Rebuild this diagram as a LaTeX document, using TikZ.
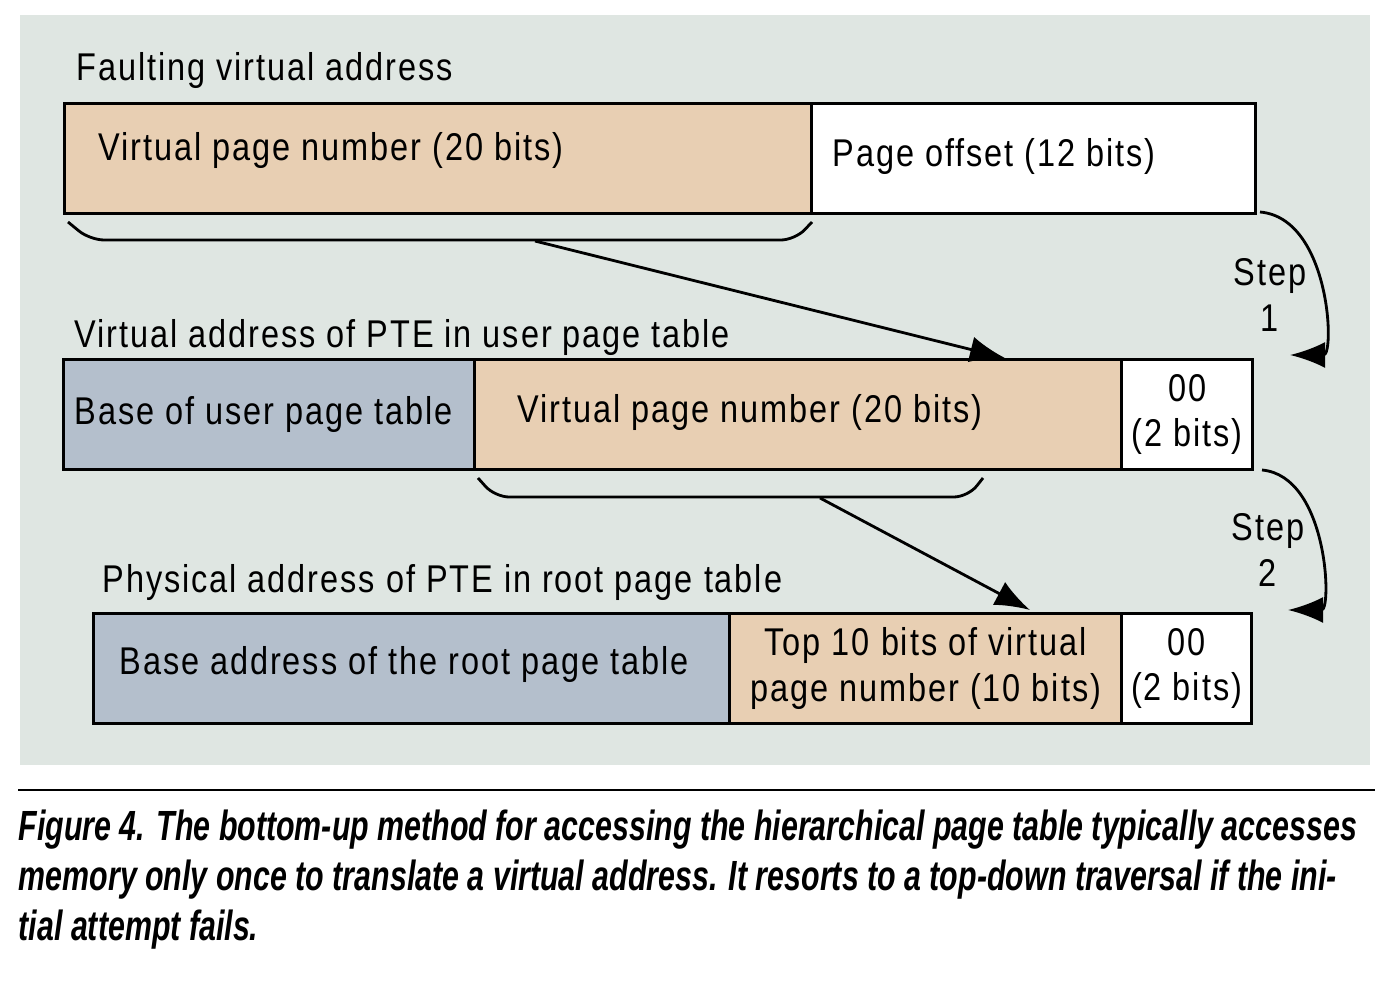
\documentclass[tikz,border=0pt]{standalone}
\usepackage{fontspec}
\setmainfont[FakeStretch=0.84,LetterSpace=5]{Liberation Sans}
\newfontfamily\capfont[FakeStretch=0.72]{Liberation Sans}
\usetikzlibrary{positioning}
\usetikzlibrary{arrows.meta}
\definecolor{bgpanel}{HTML}{DFE6E2}
\definecolor{tanfill}{HTML}{E8CFB3}
\definecolor{bluefill}{HTML}{B4BFCC}
\tikzset{
  field/.style={draw, line width=0.9pt, inner sep=0pt, anchor=north west, minimum height=1.1cm, font=\fontsize{11}{13}\selectfont},
  arrow/.style={line width=0.8pt, -{Latex[length=3.5mm,width=2.6mm]}},
  brace/.style={line width=0.8pt, rounded corners=4pt},
  lbl/.style={anchor=west, font=\fontsize{11}{13}\selectfont}
}
\begin{document}
\begin{tikzpicture}[x=0.01cm,y=-0.01cm]
\useasboundingbox (0,0) rectangle (1375,1000);
\fill[bgpanel] (20,15) rectangle (1370,765);

%Row one
\node[lbl] (faultLbl) at (64,70) {Faulting virtual address};
\node[field, fill=tanfill, minimum width=7.47cm] (vpnOne) at (63,102) {};
\node[lbl] at (86,150) {Virtual page number (20 bits)};
\node[field, fill=white, minimum width=4.44cm] (offset) at (810,102) {};
\node[lbl] at (820,156) {Page offset (12 bits)};

%Row two
\node[lbl] (pteLbl) at (62,337) {Virtual address of PTE in user page table};
\node[field, fill=bluefill, minimum width=4.11cm] (baseUser) at (62,358) {};
\node[lbl] at (62,414) {Base of user page table};
\node[field, fill=tanfill, minimum width=6.47cm] (vpnTwo) at (473,358) {};
\node[lbl] at (505,412) {Virtual page number (20 bits)};
\node[field, fill=white, minimum width=1.31cm, align=center] (zeroOne) at (1120,358) {00\\(2 bits)};

%Row three
\node[lbl] (rootLbl) at (90,582) {Physical address of PTE in root page table};
\node[field, fill=bluefill, minimum width=6.36cm] (baseRoot) at (92,612) {};
\node[lbl] at (107,664) {Base address of the root page table};
\node[field, fill=tanfill, minimum width=3.92cm, align=center] (topTen) at (728,612) {Top 10 bits of virtual\\page number (10 bits)};
\node[field, fill=white, minimum width=1.30cm, align=center] (zeroTwo) at (1120,612) {00\\(2 bits)};

%Brackets
\draw[brace] (68,222) -- (90,240) -- (795,240) -- (812,222);
\coordinate (braceOne) at (535,241);
\draw[brace] (478,478) -- (495,497) -- (968,497) -- (983,478);
\coordinate (braceTwo) at (820,498);

%Arrows
\draw[arrow] (braceOne) -- (1005,358);
\draw[arrow] (braceTwo) -- (1030,610);
\draw[arrow] (1260,212) .. controls (1330,218) and (1335,355) .. (1290,355);
\draw[arrow] (1262,470) .. controls (1328,476) and (1332,610) .. (1288,610);
\node[align=center, font=\fontsize{11}{13}\selectfont] (stepOne) at (1270,295) {Step\\1};
\node[align=center, font=\fontsize{11}{13}\selectfont] (stepTwo) at (1268,550) {Step\\2};

%Caption
\draw[line width=0.8pt] (18,790) -- (1375,790);
\node[anchor=west, inner sep=0pt, font=\capfont\bfseries\itshape\fontsize{12}{15}\selectfont] at (18,830) {Figure 4. The bottom-up method for accessing the hierarchical page table typically accesses};
\node[anchor=west, inner sep=0pt, font=\capfont\bfseries\itshape\fontsize{12}{15}\selectfont] at (18,880) {memory only once to translate a virtual address. It resorts to a top-down traversal if the ini-};
\node[anchor=west, inner sep=0pt, font=\capfont\bfseries\itshape\fontsize{12}{15}\selectfont] at (18,930) {tial attempt fails.};
\end{tikzpicture}
\end{document}
